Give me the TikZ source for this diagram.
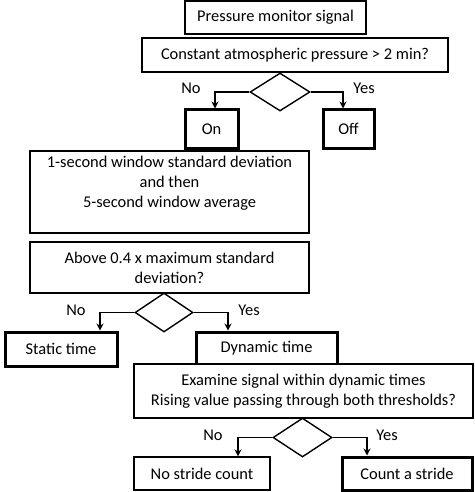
\documentclass[tikz,border=0pt]{standalone}
\usepackage{fontspec}
\setmainfont{Carlito}
\usetikzlibrary{shapes.geometric,arrows.meta}
\begin{document}
\begin{tikzpicture}[x=1pt, y=-1pt,
	box/.style={draw, line width=1.4pt, inner sep=0pt, align=center, font=\fontsize{16.4}{20}\selectfont},
	thickbox/.style={draw, line width=3pt, inner sep=0pt, align=center, font=\fontsize{16.4}{20}\selectfont},
	decision/.style={draw, diamond, line width=1.4pt, inner sep=0pt},
	lbl/.style={font=\fontsize{16.4}{20}\selectfont, inner sep=0pt},
	arr/.style={line width=1.4pt, -{Stealth[length=7pt, width=7pt]}}]
				\useasboundingbox (0,0) rectangle (474,492);
				\node[box, minimum width=181, minimum height=33] (signal) at (275.5,17.5) {Pressure monitor signal};
				\node[box, minimum width=306, minimum height=34] (constant) at (295,55) {Constant atmospheric pressure > 2 min?};
				\node[decision, minimum width=60, minimum height=38] (d1) at (280,92) {};
				\node[thickbox, minimum width=53, minimum height=38] (on) at (211.5,129) {On};
				\node[thickbox, minimum width=51, minimum height=38] (off) at (348.5,129) {Off};
				\node[lbl] (no1) at (191,88) {No};
				\node[lbl] (yes1) at (364,88) {Yes};
				\draw[arr] (d1.west) -| ([xshift=3.5pt]on.north);
				\draw[arr] (d1.east) -| ([xshift=-5.5pt]off.north);
				% windows
				\node[box, minimum width=279, minimum height=82] (window) at (169.5,192) {1-second window standard deviation\\and then\\5-second window average\\\mbox{}};
				\node[box, minimum width=279, minimum height=51] (above) at (169.5,267.5) {Above 0.4 x maximum standard\\deviation?};
				\node[decision, minimum width=58, minimum height=39] (d2) at (164,312.5) {};
				\node[thickbox, minimum width=112, minimum height=34] (static) at (61,349) {Static time};
				\node[thickbox, minimum width=141, minimum height=33] (dynamic) at (266.5,348.5) {Dynamic time};
				\node[lbl] (no2) at (76,310) {No};
				\node[lbl] (yes2) at (249,310) {Yes};
				\draw[arr] (d2.west) -| ([xshift=39pt]static.north);
				\draw[arr] (d2.east) -| ([xshift=-38.5pt]dynamic.north);
				% strides
				\node[box, fill=white, minimum width=339, minimum height=54] (examine) at (303.5,391) {Examine signal within dynamic times\\Rising value passing through both thresholds?};
				\node[decision, minimum width=59, minimum height=39] (d3) at (302.5,437.5) {};
				\node[box, minimum width=136, minimum height=33] (nostride) at (202,473.5) {No stride count};
				\node[thickbox, minimum width=130, minimum height=33] (stride) at (407,473.5) {Count a stride};
				\node[lbl] (no3) at (213,435) {No};
				\node[lbl] (yes3) at (387,435) {Yes};
				\draw[arr] (d3.west) -| ([xshift=36pt]nostride.north);
				\draw[arr] (d3.east) -| ([xshift=-40pt]stride.north);
\end{tikzpicture}
\end{document}
